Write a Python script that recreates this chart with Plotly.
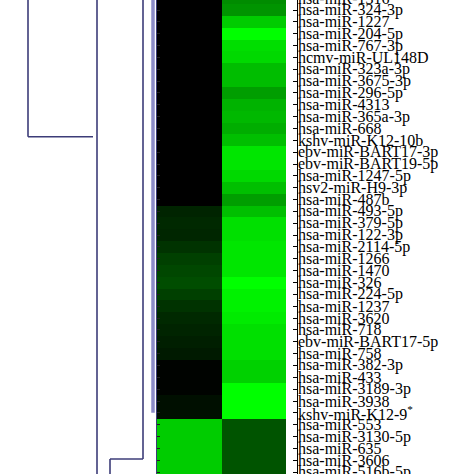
import plotly.graph_objects as go

# miRNA labels, top to bottom (first and last rows are cut by the crop)
mirnas = [
    "hsa-miR-1316", "hsa-miR-324-3p", "hsa-miR-1227", "hsa-miR-204-5p", "hsa-miR-767-3p",
    "hcmv-miR-UL148D", "hsa-miR-323a-3p", "hsa-miR-3675-3p", "hsa-miR-296-5p", "hsa-miR-4313",
    "hsa-miR-365a-3p", "hsa-miR-668", "kshv-miR-K12-10b", "ebv-miR-BART17-3p", "ebv-miR-BART19-5p",
    "hsa-miR-1247-5p", "hsv2-miR-H9-3p", "hsa-miR-487b", "hsa-miR-493-5p", "hsa-miR-379-5p",
    "hsa-miR-122-3p", "hsa-miR-2114-5p", "hsa-miR-1266", "hsa-miR-1470", "hsa-miR-326",
    "hsa-miR-224-5p", "hsa-miR-1237", "hsa-miR-3620", "hsa-miR-718", "ebv-miR-BART17-5p",
    "hsa-miR-758", "hsa-miR-382-3p", "hsa-miR-433", "hsa-miR-3189-3p", "hsa-miR-3938",
    "kshv-miR-K12-9<sup>*</sup>", "hsa-miR-553", "hsa-miR-3130-5p", "hsa-miR-635", "hsa-miR-3606",
    "hsa-miR-516b-5p",
]

# expression (0 = black, 1 = full green), two samples
sample_a = [0.0] * 18 + [0.14, 0.16, 0.15, 0.2, 0.25, 0.28, 0.3, 0.25, 0.2, 0.16, 0.14,
                         0.12, 0.1, 0.01, 0.01, 0.01, 0.06, 0.06] + [0.8] * 5
sample_b = [0.55, 0.58, 0.8, 1.0, 0.87, 0.85, 0.74, 0.74, 0.62, 0.7, 0.72, 0.68, 0.75, 0.9,
            0.9, 0.85, 0.75, 0.62, 0.75, 0.88, 0.88, 0.9, 0.9, 0.9, 1.0, 0.95, 0.95, 0.92,
            0.88, 0.88, 0.88, 0.82, 0.82, 1.0, 1.0, 1.0] + [0.33] * 5

# dendrogram links: (distance, row_from, row_to) verticals and (row, dist_from, dist_to) horizontals
dendro_vert = [(129, -3, 11.7), (60, -3, 43), (14, -3, 38.9), (47, 38.9, 43)]
dendro_horz = [(11.7, 129, 64), (38.9, 47, 14)]
cluster_bar = (4, -3, 35.0)

n = len(mirnas)
rows = list(range(n))
yr = [40.16, 0.156]

fig = go.Figure()

fig.add_trace(go.Heatmap(
    z=[[a, b] for a, b in zip(sample_a, sample_b)],
    x=[0, 1], y=rows,
    colorscale=[[0, "#000000"], [1, "#00ff00"]],
    zmin=0, zmax=1, showscale=False, hoverinfo="skip",
))

dx, dy = [], []
for d, r0, r1 in dendro_vert:
    dx += [d, d, None]
    dy += [r0, r1, None]
for r, d0, d1 in dendro_horz:
    dx += [d0, d1, None]
    dy += [r, r, None]
fig.add_trace(go.Scatter(x=dx, y=dy, xaxis="x2", yaxis="y", mode="lines",
                         line=dict(color="#3c3c78", width=1.6), hoverinfo="skip"))
fig.add_trace(go.Scatter(x=[cluster_bar[0]] * 2, y=[cluster_bar[1], cluster_bar[2]],
                         xaxis="x2", yaxis="y", mode="lines",
                         line=dict(color="#8c8cc8", width=3.5), hoverinfo="skip"))

# invisible trace to carry the label tick axis
fig.add_trace(go.Scatter(x=[0], y=[0], xaxis="x", yaxis="y2", mode="markers",
                         marker=dict(opacity=0), hoverinfo="skip"))

# labels as paper annotations (mapped through the row range) so cut rows still show
for r, name in zip(rows, mirnas):
    fig.add_annotation(x=296 / 474, xref="paper",
                       y=(yr[0] - r) / (yr[0] - yr[1]), yref="paper", text=name,
                       showarrow=False, xanchor="left", yanchor="middle",
                       font=dict(family="Liberation Serif", size=16, color="#000000"))

fig.update_layout(
    width=474, height=474,
    margin=dict(l=0, r=0, t=0, b=0),
    paper_bgcolor="white", plot_bgcolor="white",
    showlegend=False,
    xaxis=dict(domain=[157 / 474, 286 / 474], range=[-0.5, 1.5], visible=False),
    xaxis2=dict(domain=[0, 157 / 474], range=[157, 0], visible=False, anchor="y"),
    yaxis=dict(range=yr, anchor="free", position=156 / 474, side="left",
               showticklabels=False, ticks="inside", ticklen=3, tickcolor="#202020",
               tickvals=rows, showline=True, linecolor="#3c3c78", linewidth=1,
               showgrid=False, zeroline=False),
    yaxis2=dict(range=yr, overlaying="y", anchor="free", position=297 / 474, side="right",
                tickvals=rows, showticklabels=False, ticks="inside", ticklen=4,
                tickcolor="#000000", showline=True, linecolor="#000000", linewidth=1,
                showgrid=False, zeroline=False),
)

fig.write_html("out.html", config={"displayModeBar": False},
               post_script="document.body.style.margin='0';")
